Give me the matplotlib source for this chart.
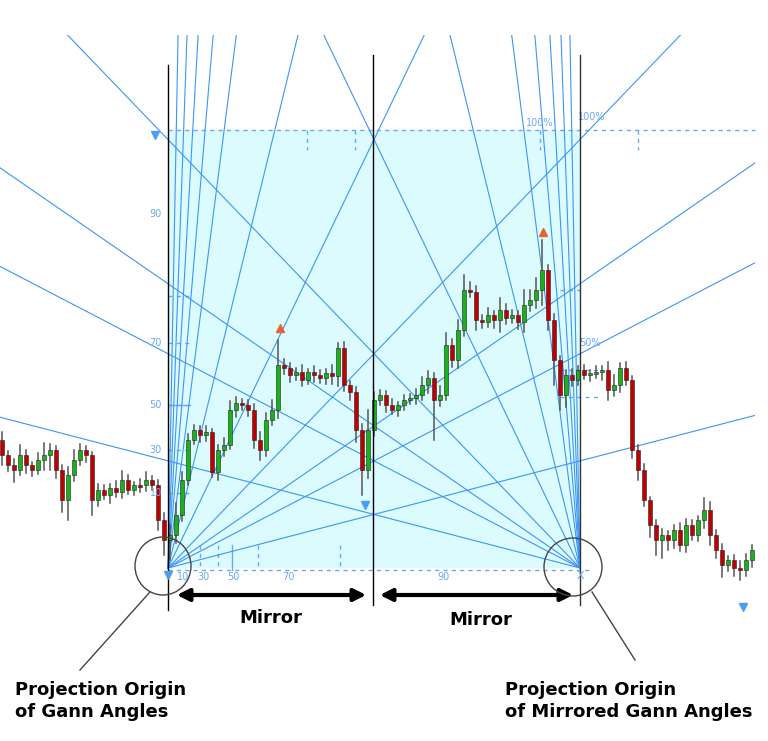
import matplotlib
matplotlib.use('Agg')
import matplotlib.pyplot as plt
from matplotlib.patches import Rectangle, Ellipse, FancyArrowPatch

# price path in screen-like units (y grows downward), one candle every 6 px
closes = [455, 465, 470, 455, 465, 470, 460, 455, 450, 470, 500, 475, 460, 450, 455, 500,
          490, 495, 488, 492, 480, 490, 485, 485, 480, 485, 520, 540, 535, 515, 480, 440,
          430, 435, 432, 472, 450, 445, 410, 403, 405, 410, 440, 450, 420, 410, 365, 368,
          375, 372, 380, 372, 375, 378, 373, 376, 348, 385, 392, 430, 470, 430, 400, 395,
          405, 410, 405, 400, 398, 395, 385, 378, 400, 395, 345, 360, 330, 290, 292, 320,
          322, 315, 320, 310, 318, 315, 322, 305, 300, 290, 270, 320, 360, 395, 375, 380,
          370, 375, 373, 372, 370, 390, 385, 368, 380, 450, 470, 500, 525, 540, 535, 540,
          530, 545, 525, 535, 520, 510, 535, 550, 565, 560, 568, 570, 560, 550]
wick_up = [8, 4, 6, 10, 5, 3, 7, 12, 6, 4, 5, 8, 10, 6, 4, 3, 6, 5, 4, 7, 9, 5, 3, 6, 8, 4,
           5, 7, 10, 12, 8, 6, 5, 4, 6, 3, 5, 7, 9, 6, 4, 5, 6, 8, 7, 10, 25, 6, 5, 4, 7, 3,
           6, 5, 4, 8, 5, 6, 4, 5, 6, 20, 8, 5, 4, 6, 3, 5, 4, 6, 8, 7, 5, 9, 12, 6, 10, 15,
           8, 6, 5, 7, 4, 12, 6, 5, 4, 15, 10, 12, 30, 5, 6, 4, 5, 6, 4, 5, 3, 6, 4, 8, 10,
           5, 6, 4, 5, 6, 3, 5, 6, 4, 5, 7, 6, 5, 4, 12, 8, 5, 6, 4, 5, 7, 6, 5]
wick_dn = [10, 6, 12, 5, 8, 6, 4, 10, 15, 8, 12, 20, 6, 5, 7, 15, 6, 4, 8, 5, 6, 4, 5, 7,
           6, 5, 10, 15, 20, 8, 6, 5, 4, 7, 6, 5, 8, 6, 4, 7, 5, 6, 8, 10, 6, 5, 8, 6, 7, 5,
           6, 4, 7, 5, 6, 8, 10, 6, 8, 12, 25, 8, 6, 5, 7, 4, 6, 5, 4, 6, 5, 8, 40, 6, 5, 7,
           8, 6, 5, 10, 6, 5, 8, 12, 6, 5, 7, 10, 6, 8, 15, 10, 25, 15, 12, 6, 5, 4, 6, 5, 8,
           10, 6, 7, 5, 8, 10, 6, 12, 15, 18, 10, 8, 6, 7, 5, 6, 8, 10, 8, 12, 6, 8, 10, 6, 7]
first_open = 440

# fan slopes (rise per run, screen units) and layout of the projection box
fan_slopes = [0.26, 0.52, 0.69, 1.04, 2.08, 4.1, 7.8, 11.8, 17.7, 28, 53]
box_x0, box_x1, box_top, box_bot = 168, 580, 130, 568

bottom_labels = ['10', '30', '50', '70', '90']
bottom_label_x = [183, 203, 233, 288, 443]
left_labels = ['90', '70', '50', '30', '10']
left_label_y = [214, 343, 405, 450, 493]

W, H = 768, 741
fig = plt.figure(figsize=(W / 100, H / 100), dpi=100)
ax = fig.add_axes([0, 0, 1, 1])
ax.set_xlim(0, W)
ax.set_ylim(H, 0)
ax.axis('off')

blue = '#3d95f5'
lblue = '#6aa8f5'

ax.add_patch(Rectangle((box_x0, box_top), box_x1 - box_x0, box_bot - box_top,
                       facecolor='#dcfbff', edgecolor='none', zorder=0))
ax.plot([box_x0, 755], [box_top, box_top], ls=(0, (3, 3)), color=lblue, lw=1, zorder=1)
ax.plot([box_x0, 590], [570, 570], ls=(0, (3, 3)), color=lblue, lw=1, zorder=1)
for tx in [200, 218, 258, 340]:
    ax.plot([tx, tx], [545, 570], ls=(0, (3, 3)), color=lblue, lw=1, zorder=1)
ax.plot([232, 232], [545, 570], color=lblue, lw=1, zorder=1)
for tx in [307, 355, 540, 638]:
    ax.plot([tx, tx], [130, 150], ls=(0, (3, 3)), color=lblue, lw=1, zorder=1)
for ly in left_label_y[1:]:
    ax.plot([box_x0, 190], [ly, ly], ls=(0, (3, 3)), color=lblue, lw=1, zorder=1)
ax.plot([box_x0, 190], [296, 296], ls=(0, (3, 3)), color=lblue, lw=1, zorder=1)
ax.plot([box_x0, 190], [405, 405], color=lblue, lw=1, zorder=1)
ax.plot([560, 600], [370, 370], ls=(0, (3, 3)), color=lblue, lw=1, zorder=1)
ax.plot([560, 600], [397, 397], ls=(0, (3, 3)), color=lblue, lw=1, zorder=1)
ax.plot([560, 580], [290, 290], ls=(0, (3, 3)), color=lblue, lw=1, zorder=1)

clip = Rectangle((0, 35), 755, 560, transform=ax.transData)
for s in fan_slopes:
    for ox, d in [(box_x0, 1), (box_x1, -1)]:
        L = 2000
        ln, = ax.plot([ox, ox + d * L], [box_bot, box_bot - s * L], color=blue, lw=0.8, zorder=2)
        ln.set_clip_path(clip)

# candlesticks
opens = [first_open] + closes[:-1]
for i, (o, c) in enumerate(zip(opens, closes)):
    x = 2 + 6 * i
    hi = min(o, c) - wick_up[i]
    lo = max(o, c) + wick_dn[i]
    ax.plot([x, x], [hi, lo], color='#555555', lw=1.1, zorder=3)
    col = '#19b219' if c < o else '#c00000'
    ax.add_patch(Rectangle((x - 2.4, min(o, c)), 4.8, max(abs(c - o), 1.5),
                           facecolor=col, edgecolor='#222222', lw=0.4, zorder=4))

# vertical guide lines
ax.plot([168, 168], [65, 610], color='black', lw=1, zorder=5)
ax.plot([373, 373], [55, 605], color='black', lw=1, zorder=5)
ax.plot([580, 580], [55, 605], color='#333333', lw=1, zorder=5)

for t, x in zip(bottom_labels, bottom_label_x):
    ax.text(x, 577, t, color=lblue, fontsize=7, ha='center', va='center', zorder=6)
for t, y in zip(left_labels, left_label_y):
    ax.text(162, y, t, color=lblue, fontsize=7, ha='right', va='center', zorder=6)
ax.text(540, 123, '100%', color=lblue, fontsize=7, ha='center', va='center')
ax.text(592, 117, '100%', color=lblue, fontsize=7, ha='center', va='center')
ax.text(590, 343, '50%', color=lblue, fontsize=7, ha='center', va='center')

ax.plot([280, 543], [328, 232], ls='none', marker='^', color='#e8642a', ms=6, zorder=6)
ax.plot([365, 743, 155, 168], [505, 607, 135, 575], ls='none', marker='v', color='#4aa0f0', ms=6, zorder=6)
ax.text(580, 576, 'X', color=lblue, fontsize=8, ha='center', va='center', zorder=6)

for x0, x1 in [(174, 369), (377, 576)]:
    ax.add_patch(FancyArrowPatch((x0, 595), (x1, 595), arrowstyle='<|-|>', mutation_scale=18,
                                 color='black', lw=3, zorder=6))
ax.text(271, 618, 'Mirror', fontsize=13, fontweight='bold', ha='center', va='center')
ax.text(481, 620, 'Mirror', fontsize=13, fontweight='bold', ha='center', va='center')

ax.add_patch(Ellipse((163, 566), 56, 58, fill=False, edgecolor='#444444', lw=1, zorder=6))
ax.add_patch(Ellipse((573, 567), 58, 58, fill=False, edgecolor='#444444', lw=1, zorder=6))
ax.plot([150, 80], [592, 670], color='#444444', lw=1)
ax.plot([592, 635], [592, 660], color='#444444', lw=1)

ax.text(15, 701, 'Projection Origin\nof Gann Angles', fontsize=13, fontweight='bold',
        ha='left', va='center', linespacing=1.3)
ax.text(505, 701, 'Projection Origin\nof Mirrored Gann Angles', fontsize=13, fontweight='bold',
        ha='left', va='center', linespacing=1.3)

fig.savefig('out.png', dpi=100)
